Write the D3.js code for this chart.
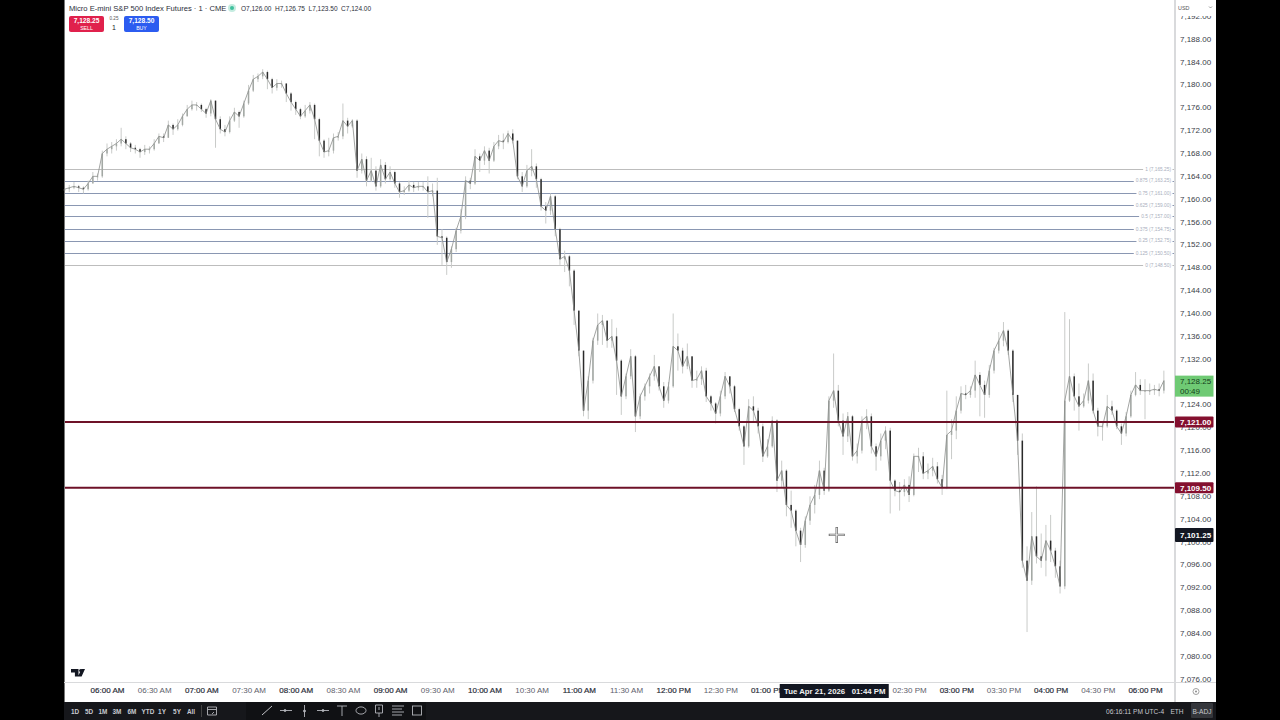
<!DOCTYPE html>
<html>
<head>
<meta charset="utf-8">
<title>MES 1m</title>
<script src="https://cdn.jsdelivr.net/npm/d3@7"></script>
<style>
html, body { margin: 0; padding: 0; background: #000; overflow: hidden; }
text { font-family: "Liberation Sans", Arial, sans-serif; }
</style>
</head>
<body>
<div id="chart"></div>
<script>
// 3 minute bars, first bar starts at 05:33 AM
const firstBarMinute = -27
const barStep = 3
const firstOpen = 7161.5

const closes = [
  7161.75,7162,7162.25,7162,7161.75,7162.75,7164,7164,7168,7168.75,
  7169.25,7169.75,7170.5,7169.75,7169,7168.75,7168.25,7168.75,7168.75,7169.75,
  7171,7170.75,7173,7172.25,7173,7174.5,7175.75,7176.5,7176.5,7175.75,
  7175,7177.25,7174,7172.25,7171.75,7173.75,7175.25,7174.5,7176.75,7179,
  7181,7181.5,7182.25,7181,7179.5,7180.25,7180.25,7178.5,7177,7175.75,
  7174.5,7175.5,7176.5,7174,7170.25,7168.25,7168.5,7170.75,7171,7173.75,
  7172.75,7173.75,7165,7167,7163.25,7165,7162.25,7166,7163.5,7164.75,
  7162.75,7161.25,7161.5,7162.5,7162,7162.25,7162.25,7161.25,7161.5,7153.5,
  7153.25,7149,7151.25,7154.5,7157,7163.25,7162.75,7167.5,7166.75,7168.5,
  7166.75,7169.25,7170.25,7170,7171.5,7170.25,7164,7162.25,7165,7165.75,
  7163.5,7158.75,7158,7160.5,7154.75,7149.5,7150,7147.5,7140.5,7133.5,
  7123,7128.25,7135.25,7138,7138.75,7135.25,7136,7131.75,7125.5,7129,
  7132.5,7122,7125.5,7127.25,7129,7130.75,7127.25,7124.75,7127.25,7134.25,
  7133.5,7130.75,7132.5,7128.25,7128.5,7130,7125.5,7124.25,7122.5,7125.5,
  7129,7127.25,7123.25,7120.25,7116.75,7123.75,7123,7120.25,7115,7116.75,
  7121.25,7110.75,7112.5,7106.5,7105.5,7102,7099.5,7103.75,7106.5,7108.25,
  7112.5,7109,7124.75,7126.5,7121.25,7118.5,7122,7115,7116,7121.25,
  7122,7116.75,7115,7117.75,7119.5,7110.75,7109,7108.75,7110,7108.25,
  7115,7115,7112,7112.5,7113.25,7111,7109.5,7118.75,7119.5,7123,
  7126,7125.75,7126.5,7129.25,7127.5,7125.75,7130,7133.5,7135.25,7137,
  7133.5,7125.75,7117.75,7096.75,7093.25,7101,7097.5,7096.75,7100.25,7098.5,
  7095.75,7092.25,7124.75,7129,7125.5,7123.75,7124.75,7128.25,7123,7120.25,
  7120.25,7123.75,7123,7120.25,7119,7122,7125.75,7127.5,7126.5,7126.5,7126.5,7126.75,7126.5,7128.25
]
const highs = [
  7162.25,7162.5,7163,7162.5,7162.25,7163.25,7164.75,7164.5,7168.5,7169.75,
  7170,7170.5,7172.5,7171,7170,7169.5,7169,7169.5,7169.25,7170.5,
  7171.5,7171.5,7173.75,7173.25,7174,7175,7176.5,7177.25,7177,7176.75,
  7176,7177.5,7177.25,7174.5,7173,7174.5,7176,7175.5,7177.25,7180,
  7181.75,7182,7182.75,7182.5,7181.25,7181,7180.75,7180.25,7178.75,7177.25,
  7176,7176.5,7177,7176.75,7174.25,7170.5,7170.75,7171.5,7171.75,7176.75,
  7174.25,7174,7174,7168,7167.5,7167.25,7165.75,7167,7166.5,7165.75,
  7165,7163,7162.25,7163.25,7163,7163,7163,7164,7162.75,7163.75,
  7154.75,7153.5,7151.75,7155,7158.25,7164,7163.75,7168.75,7168,7169.25,
  7169,7170,7171.25,7171.5,7172,7172.25,7170.25,7164.75,7166,7168.75,
  7166.25,7163.75,7159.5,7161,7160.75,7155,7151,7150.25,7147.75,7140.5,
  7133.5,7129,7135.75,7140,7139.75,7138.75,7139,7137.5,7132,7129.5,
  7133.75,7132.75,7126,7127.75,7129.5,7132.75,7130.75,7128,7128,7140,
  7136.5,7134,7134.75,7132.5,7130,7130.75,7130.5,7125.75,7124.5,7126.5,
  7129.75,7129,7127.5,7123.5,7120.5,7125,7125.5,7123.5,7120.75,7118,
  7122,7121.5,7114.25,7112.75,7109,7105.75,7102.5,7104.5,7108,7110,
  7114.25,7113,7125.5,7133,7127.5,7122.5,7122.75,7122.25,7117.25,7122,
  7123.25,7122.5,7117.25,7119,7120.25,7120,7111,7110.5,7111,7111.5,
  7115.5,7116.5,7115.75,7113.75,7114.75,7114,7111.75,7126.5,7121.5,7125.5,
  7127.25,7127.5,7127.25,7131.75,7129.75,7128.25,7131,7134,7136.75,7138.5,
  7137.25,7133.75,7125.75,7119,7099.25,7105.25,7109.75,7101.5,7103,7104.75,
  7099,7096.75,7140.25,7139,7129.5,7127.75,7126,7131.25,7129.5,7123.5,
  7121,7125.75,7124.75,7123.25,7120.75,7122.75,7126.5,7129.75,7128.5,7128.5,7127.75,7127.5,7127.75,7130
]
const lows = [
  7161,7161.25,7161.75,7161.25,7161,7161.5,7162.75,7163.25,7163.75,7167.5,
  7168,7168.5,7169.25,7168.75,7168.25,7168,7167.25,7167.75,7168,7168.5,
  7169.75,7170,7170.75,7171.25,7172,7172.75,7174.5,7175.5,7175.5,7175.25,
  7174.25,7174.5,7169,7171.5,7171,7171.5,7173.5,7172.5,7174.25,7176.5,
  7178.75,7180.5,7181,7179.25,7178.5,7179,7179.5,7177,7175.5,7174.75,
  7174,7174.25,7175,7170.5,7167.5,7167.25,7167.5,7168,7170.25,7170.5,
  7171.5,7172.5,7163.75,7164.5,7162.25,7163,7161.5,7162,7162.75,7163.25,
  7162,7160.25,7160.75,7161.25,7161.25,7161.5,7161.5,7156.75,7160.5,7152,
  7148.5,7146.75,7148,7150.75,7154,7156.5,7161.75,7162.5,7164.75,7166,
  7164.5,7166.5,7168.75,7168.75,7169.75,7169.75,7163.5,7161.25,7162,7164,
  7162,7158,7155.75,7157.25,7153.5,7148.5,7147.25,7144.75,7138,7132.5,
  7122,7121.5,7127.75,7134.5,7134.5,7134,7134,7125.75,7122.25,7125,
  7128.5,7119.25,7121.5,7124.75,7126,7128.25,7126.5,7123.5,7124.25,7127,
  7130,7129.5,7130.25,7127,7127,7127.5,7124.5,7123,7120.75,7122,
  7125,7126,7122.75,7119.5,7113.5,7116.5,7121,7119,7114,7114.75,
  7116.5,7108.75,7109.5,7104.5,7102.5,7099.25,7096.5,7099,7103,7105,
  7107.5,7108.25,7108.75,7123.5,7120.25,7115.25,7117.5,7114.25,7113.75,7115.5,
  7119.75,7115.5,7112.5,7114.25,7116.25,7105,7108,7105.5,7108,7107,
  7108,7112.25,7111,7111,7111.5,7110.25,7108.25,7109.25,7114.5,7118,
  7122.5,7125,7125.25,7125.25,7122,7121.75,7125.25,7129.5,7133,7134.25,
  7132.75,7124.5,7115.25,7095.5,7084.25,7092.5,7096.25,7095.5,7094,7096.5,
  7093.75,7091,7091.75,7124.5,7123,7119.5,7123.5,7124.25,7122.5,7118.5,
  7117.75,7120,7122.25,7119.75,7117,7118.5,7121.75,7125.5,7125.75,7121.5,7125.75,7125.75,7125.5,7126
]

const priceTicks = d3.range(7076, 7193, 4)
const priceDomain = [7076, 7188]

// 01:30 PM and 02:00 PM sit under the crosshair date label on the chart
const timeTickMinutes = [0,30,60,90,120,150,180,210,240,270,300,330,360,390,420,510,540,570,600,630,660]
const timeTickLabels = ['06:00 AM','06:30 AM','07:00 AM','07:30 AM','08:00 AM','08:30 AM','09:00 AM','09:30 AM','10:00 AM','10:30 AM','11:00 AM','11:30 AM','12:00 PM','12:30 PM','01:00 PM','02:30 PM','03:00 PM','03:30 PM','04:00 PM','04:30 PM','06:00 PM']

const fibRatios = ['1','0.875','0.75','0.625','0.5','0.375','0.25','0.125','0']
const fibPrices = [7165.25,7163.25,7161,7159,7157,7154.75,7152.75,7150.5,7148.5]

const redLevels = [7121, 7109.5]
const crossPrice = 7101.25
const crossMinute = 464
const lastPrice = 7128.25

const rangeLabels = ['1D','5D','1M','3M','6M','YTD','1Y','5Y','All']
const rangeLabelX = [75,89,103,117,132,148,162,177,191]

const left = 65, right = 1175, frameRight = 1216
const fmt = d3.format(',.2f')

const svg = d3.select('#chart').append('svg')
  .attr('width', 1280)
  .attr('height', 720)
  .style('display', 'block')
  .style('background', '#000')

svg.append('rect').attr('x', 64).attr('y', 0).attr('width', frameRight - 64).attr('height', 702).attr('fill', '#fff')

const y = d3.scaleLinear().domain(priceDomain).range([679.2, 39.2])
const x = d3.scaleLinear().domain([0, 660]).range([107, 1145])

// fib levels
const fibColor = (d, i) => (i === 0 || i === fibPrices.length - 1) ? '#bdbdbd' : '#8a97b2'
const fib = svg.append('g')
fibPrices.forEach((p, i) => {
  const label = fib.append('text')
    .attr('x', 1171)
    .attr('y', y(p) + 1.6)
    .attr('text-anchor', 'end')
    .attr('font-size', 4.8)
    .attr('fill', '#a9afbd')
    .text(`${fibRatios[i]} (${fmt(p)})`)
  const w = label.node().getComputedTextLength()
  fib.append('line')
    .attr('x1', left).attr('x2', 1169 - w)
    .attr('y1', Math.round(y(p)) + 0.5).attr('y2', Math.round(y(p)) + 0.5)
    .attr('stroke', fibColor(p, i))
    .attr('stroke-width', 1)
  fib.append('line')
    .attr('x1', 1172.5).attr('x2', 1174.5)
    .attr('y1', Math.round(y(p)) + 0.5).attr('y2', Math.round(y(p)) + 0.5)
    .attr('stroke', fibColor(p, i))
})

// candles
const bars = closes.map((c, i) => ({
  minute: firstBarMinute + i * barStep,
  open: i === 0 ? firstOpen : closes[i - 1],
  close: c,
  high: highs[i],
  low: lows[i]
}))

const priceGroup = svg.append('g').style('filter', 'blur(0.4px)')

const candles = priceGroup.selectAll('g').data(bars).enter().append('g')

candles.append('line')
  .attr('x1', d => x(d.minute)).attr('x2', d => x(d.minute))
  .attr('y1', d => y(d.high)).attr('y2', d => y(d.low))
  .attr('stroke', '#c9cbc9')
  .attr('stroke-width', 1)

// the 3 minute bars leave gaps the 1m chart does not have, a thin close line bridges them
priceGroup.append('path')
  .datum(bars)
  .attr('fill', 'none')
  .attr('stroke', '#8b8e8b')
  .attr('stroke-width', 0.8)
  .attr('d', d3.line().x(d => x(d.minute)).y(d => y(d.close)))

candles.append('rect')
  .attr('x', d => x(d.minute) - 0.75)
  .attr('width', 1.5)
  .attr('y', d => y(Math.max(d.open, d.close)))
  .attr('height', d => Math.max(1, Math.abs(y(d.open) - y(d.close))))
  .attr('fill', d => d.close >= d.open ? '#a3a8a4' : '#2a2a2a')

// red horizontal levels
svg.append('g').selectAll('line').data(redLevels).enter().append('line')
  .attr('x1', left).attr('x2', right)
  .attr('y1', d => y(d)).attr('y2', d => y(d))
  .attr('stroke', '#6e1228')
  .attr('stroke-width', 2)

// frame of the panes
svg.append('line').attr('x1', 64.5).attr('x2', 64.5).attr('y1', 0).attr('y2', 702).attr('stroke', '#777')
svg.append('rect').attr('x', 1175).attr('y', 0).attr('width', 41).attr('height', 702).attr('fill', '#fff')
svg.append('rect').attr('x', 1174).attr('y', 0).attr('width', 2).attr('height', 702).attr('fill', '#d9dadc')
svg.append('rect').attr('x', 64).attr('y', 682).attr('width', 1152).attr('height', 1).attr('fill', '#d9dadc')

// price axis
const yAxis = d3.axisRight(y).tickValues(priceTicks).tickFormat(fmt).tickSize(0).tickPadding(0)
const yG = svg.append('g').attr('transform', 'translate(1180,-0.5)').call(yAxis)
yG.select('.domain').remove()
yG.selectAll('text')
  .style('font-family', '"Liberation Sans", Arial, sans-serif')
  .attr('font-size', 8)
  .attr('fill', '#3a3e48')

svg.append('rect').attr('x', 1177).attr('y', 0).attr('width', 39).attr('height', 16).attr('fill', '#fff')
svg.append('text').attr('x', 1178).attr('y', 9.5).attr('font-size', 5.4).attr('fill', '#555').text('USD')
svg.append('path').attr('d', 'M1209 6.5l1.5 1.5 1.5-1.5').attr('fill', 'none').attr('stroke', '#777').attr('stroke-width', 0.7)

// price labels
const priceTag = (price, fill, text, h) => {
  const cy = y(price)
  svg.append('rect').attr('x', 1175).attr('y', cy - h / 2).attr('width', 38.5).attr('height', h).attr('rx', 1).attr('fill', fill)
  svg.append('text').attr('x', 1180).attr('y', cy + 3).attr('font-size', 8).attr('font-weight', 'bold').attr('fill', text).text(fmt(price))
}
redLevels.forEach(p => priceTag(p, '#84102f', '#fff', 11))
priceTag(crossPrice, '#131722', '#fff', 14)

const lastY = y(lastPrice)
svg.append('rect').attr('x', 1175).attr('y', lastY - 5).attr('width', 38.5).attr('height', 21).attr('fill', '#6fca74')
svg.append('text').attr('x', 1180).attr('y', lastY + 3.5).attr('font-size', 8).attr('fill', '#14401c').text(fmt(lastPrice))
svg.append('text').attr('x', 1180).attr('y', lastY + 13).attr('font-size', 8).attr('fill', '#14401c').text('00:49')

// time axis
const xAxis = d3.axisBottom(x)
  .tickValues(timeTickMinutes)
  .tickFormat((d, i) => timeTickLabels[i])
  .tickSize(0)
  .tickPadding(0)
const xG = svg.append('g').attr('transform', 'translate(0,687)').call(xAxis)
xG.select('.domain').remove()
xG.selectAll('text')
  .style('font-family', '"Liberation Sans", Arial, sans-serif')
  .attr('font-size', 8)
  .attr('fill', d => d % 60 === 0 ? '#2a2e39' : '#5d606b')
  .attr('stroke', d => d % 60 === 0 ? '#2a2e39' : 'none')
  .attr('stroke-width', 0.2)

// crosshair
const crossX = x(crossMinute)
svg.append('rect').attr('x', crossX - 57).attr('y', 684).attr('width', 109).attr('height', 14).attr('fill', '#131722')
svg.append('text').attr('x', crossX - 2).attr('y', 694).attr('text-anchor', 'middle').attr('font-size', 7.8).attr('font-weight', 'bold').attr('fill', '#f2f2f2')
  .style('white-space', 'pre').text('Tue Apr 21, 2026   01:44 PM')

const cursor = svg.append('g').attr('transform', `translate(${crossX},${y(crossPrice)})`)
cursor.append('path').attr('d', 'M-8 0H8M0 -8V8').attr('stroke', '#666').attr('stroke-width', 2.4)
cursor.append('path').attr('d', 'M-7.2 0H7.2M0 -7.2V7.2').attr('stroke', '#fff').attr('stroke-width', 0.9)

// settings icon under the price scale
svg.append('circle').attr('cx', 1196).attr('cy', 691.5).attr('r', 3).attr('fill', 'none').attr('stroke', '#8a8a8a').attr('stroke-width', 0.8)
svg.append('circle').attr('cx', 1196).attr('cy', 691.5).attr('r', 1).attr('fill', '#8a8a8a')

// header
svg.append('text').attr('x', 69).attr('y', 11).attr('font-size', 7.6).attr('fill', '#2a2e39').text('Micro E-mini S&P 500 Index Futures · 1 · CME')
svg.append('circle').attr('cx', 232).attr('cy', 8).attr('r', 4).attr('fill', '#c5ece0')
svg.append('circle').attr('cx', 232).attr('cy', 8).attr('r', 2).attr('fill', '#3fc09c')
svg.append('text').attr('x', 241).attr('y', 10.5).attr('font-size', 6.5).attr('fill', '#2a2e39').style('white-space', 'pre').text('O7,126.00  H7,126.75  L7,123.50  C7,124.00')

const tradeBox = (bx, fill, price, word) => {
  svg.append('rect').attr('x', bx).attr('y', 16).attr('width', 35).attr('height', 16).attr('rx', 2).attr('fill', fill)
  svg.append('text').attr('x', bx + 17.5).attr('y', 23).attr('text-anchor', 'middle').attr('font-size', 6.6).attr('font-weight', 'bold').attr('fill', '#fff').text(price)
  svg.append('text').attr('x', bx + 17.5).attr('y', 30).attr('text-anchor', 'middle').attr('font-size', 5.2).attr('fill', '#fff').text(word)
}
tradeBox(69, '#e0214c', fmt(lastPrice), 'SELL')
tradeBox(124, '#2c5cf0', '7,128.50', 'BUY')
svg.append('text').attr('x', 114).attr('y', 20).attr('text-anchor', 'middle').attr('font-size', 4.6).attr('fill', '#555').text('0.25')
svg.append('text').attr('x', 114).attr('y', 30).attr('text-anchor', 'middle').attr('font-size', 7).attr('fill', '#222').text('1')

// logo
svg.append('path')
  .attr('d', 'M71 669h7.5v7.5h-3.6v-4h-3.9zM85 669l-3.4 7.5h-3.6l3.4-7.5z')
  .attr('fill', '#131722')
svg.append('circle').attr('cx', 80.6).attr('cy', 670.6).attr('r', 1.5).attr('fill', '#131722')

// bottom toolbar
svg.append('rect').attr('x', 64).attr('y', 702).attr('width', 1152).attr('height', 18).attr('fill', '#16171b')
svg.append('rect').attr('x', 246).attr('y', 702).attr('width', 180).attr('height', 18).attr('fill', '#101114')
svg.append('g').selectAll('text').data(rangeLabels).enter().append('text')
  .attr('x', (d, i) => rangeLabelX[i])
  .attr('y', 713.5)
  .attr('text-anchor', 'middle')
  .attr('font-size', 6.4)
  .attr('font-weight', 'bold')
  .attr('fill', '#c8cad0')
  .text(d => d)
svg.append('line').attr('x1', 201.5).attr('x2', 201.5).attr('y1', 705).attr('y2', 717).attr('stroke', '#444')

const icons = svg.append('g').attr('fill', 'none').attr('stroke', '#b4b6bb').attr('stroke-width', 0.9)
icons.append('path').attr('d', 'M207.5 707h9v8h-9zM207.5 709.5h9M214 712l-2 2')
icons.append('path').attr('d', 'M262 715l10-9').attr('stroke', '#d5d6da')
icons.append('path').attr('d', 'M280 710.5h12')
icons.append('circle').attr('cx', 285).attr('cy', 710.5).attr('r', 1).attr('fill', '#b4b6bb')
icons.append('path').attr('d', 'M304.5 705v12')
icons.append('circle').attr('cx', 304.5).attr('cy', 711).attr('r', 1).attr('fill', '#b4b6bb')
icons.append('path').attr('d', 'M317 710.5h12')
icons.append('circle').attr('cx', 323).attr('cy', 710.5).attr('r', 1).attr('fill', '#b4b6bb')
icons.append('path').attr('d', 'M337 706h10M342 706v10')
icons.append('ellipse').attr('cx', 361).attr('cy', 710.5).attr('rx', 5).attr('ry', 3.6)
icons.append('path').attr('d', 'M375.5 705h7v8h-7zM379 713v4M379 707v3')
icons.append('path').attr('d', 'M392 706h12M392 709h10M392 712h12M392 715h10')
icons.append('rect').attr('x', 412.5).attr('y', 706).attr('width', 9).attr('height', 9)

svg.append('text').attr('x', 1106).attr('y', 713.5).attr('font-size', 6.6).attr('fill', '#c8cad0').text('06:16:11 PM UTC-4')
svg.append('text').attr('x', 1177).attr('y', 713.5).attr('text-anchor', 'middle').attr('font-size', 6.6).attr('fill', '#c8cad0').text('ETH')
svg.append('rect').attr('x', 1191).attr('y', 703).attr('width', 22).attr('height', 15).attr('rx', 1).attr('fill', '#34363b')
svg.append('text').attr('x', 1202).attr('y', 713.5).attr('text-anchor', 'middle').attr('font-size', 6.6).attr('fill', '#c8cad0').text('B-ADJ')
</script>
</body>
</html>
